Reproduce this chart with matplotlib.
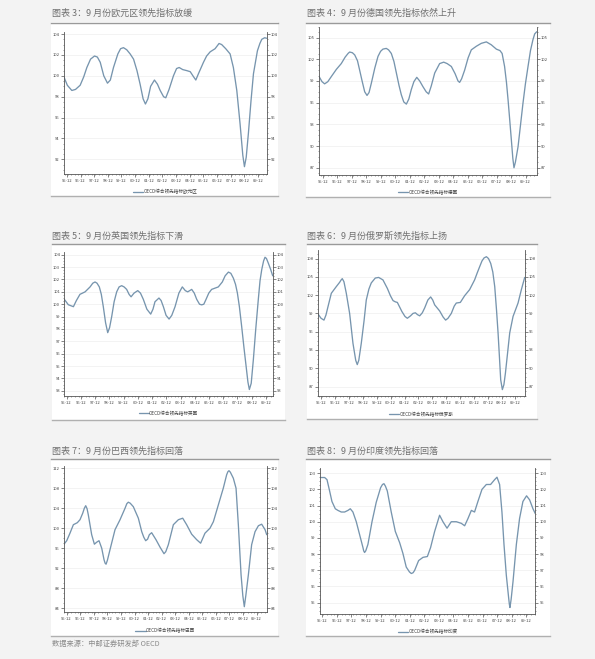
import matplotlib
matplotlib.use("Agg")
import matplotlib.pyplot as plt
from matplotlib.patches import Rectangle
from matplotlib.lines import Line2D
from matplotlib.ticker import MultipleLocator, AutoMinorLocator

plt.rcParams['font.family'] = ['Noto Sans CJK SC', 'DejaVu Sans']

W, H = 595, 659

# ---------------- data (decimal years, index values) ----------------
tick_years = list(range(1995, 2010))
tick_labels = ["95-12", "96-12", "97-12", "98-12", "99-12", "00-12", "01-12", "02-12",
               "03-12", "04-12", "05-12", "06-12", "07-12", "08-12", "09-12"]

ez_t = [1995.67, 1995.95, 1996.28, 1996.55, 1996.89, 1997.15, 1997.38, 1997.65, 1997.94, 1998.15,
        1998.36, 1998.62, 1998.89, 1999.10, 1999.33, 1999.65, 1999.85, 2000.06, 2000.30, 2000.55,
        2000.80, 2001.05, 2001.28, 2001.50, 2001.67, 2001.85, 2002.05, 2002.33, 2002.55, 2002.75,
        2003.00, 2003.16, 2003.40, 2003.72, 2003.95, 2004.14, 2004.40, 2004.70, 2004.95, 2005.20,
        2005.36, 2005.55, 2005.92, 2006.15, 2006.41, 2006.77, 2007.06, 2007.25, 2007.55, 2007.87,
        2008.11, 2008.36, 2008.60, 2008.80, 2008.92, 2009.05, 2009.21, 2009.40, 2009.58, 2009.87,
        2010.05, 2010.19, 2010.40, 2010.55]
ez_v = [100.0, 99.1, 98.6, 98.7, 99.1, 99.9, 100.8, 101.6, 101.9, 101.8,
        101.3, 100.0, 99.3, 99.6, 100.8, 102.1, 102.6, 102.7, 102.5, 102.1,
        101.6, 100.5, 99.2, 97.8, 97.3, 97.8, 99.0, 99.6, 99.2, 98.6,
        98.0, 97.9, 98.7, 100.0, 100.7, 100.8, 100.6, 100.5, 100.4, 99.9,
        99.6, 100.2, 101.3, 101.9, 102.3, 102.6, 103.1, 103.0, 102.6, 102.1,
        100.8, 98.6, 95.4, 92.4, 91.3, 92.2, 94.5, 97.6, 100.2, 102.4,
        103.1, 103.5, 103.65, 103.6]

de_t = [1995.62, 1995.85, 1996.03, 1996.25, 1996.49, 1996.84, 1997.18, 1997.45, 1997.65, 1997.76,
        1997.95, 1998.11, 1998.30, 1998.45, 1998.62, 1998.80, 1998.96, 1999.10, 1999.26, 1999.50,
        1999.72, 1999.90, 2000.06, 2000.29, 2000.45, 2000.64, 2000.82, 2000.99, 2001.17, 2001.33,
        2001.50, 2001.68, 2001.85, 2002.02, 2002.20, 2002.40, 2002.60, 2002.83, 2003.05, 2003.22,
        2003.40, 2003.64, 2003.98, 2004.26, 2004.50, 2004.79, 2005.05, 2005.25, 2005.36, 2005.50,
        2005.71, 2005.95, 2006.17, 2006.52, 2006.86, 2007.21, 2007.55, 2007.90, 2008.15, 2008.30,
        2008.47, 2008.60, 2008.71, 2008.83, 2008.94, 2009.04, 2009.12, 2009.22, 2009.40, 2009.57,
        2009.74, 2009.91, 2010.09, 2010.26, 2010.43, 2010.55, 2010.69]
de_v = [99.7, 98.9, 98.6, 98.9, 99.6, 100.6, 101.4, 102.3, 102.8, 103.0,
        102.9, 102.6, 101.8, 100.5, 99.0, 97.5, 97.0, 97.4, 98.7, 100.8,
        102.4, 103.1, 103.4, 103.5, 103.3, 102.8, 101.7, 100.1, 98.4, 97.1,
        96.1, 95.8, 96.5, 97.8, 98.9, 99.5, 99.0, 98.2, 97.5, 97.2,
        98.3, 100.1, 101.4, 101.6, 101.4, 101.0, 100.0, 99.0, 98.8, 99.3,
        100.5, 102.2, 103.3, 103.8, 104.2, 104.4, 104.0, 103.4, 103.2, 102.8,
        101.0, 98.8, 96.4, 93.5, 90.8, 88.3, 87.0, 87.8, 89.9, 92.9,
        95.9, 98.6, 101.0, 103.2, 104.7, 105.5, 105.8]

uk_t = [1995.75, 1996.03, 1996.39, 1996.60, 1996.85, 1997.21, 1997.56, 1997.75, 1997.91, 1998.05,
        1998.21, 1998.35, 1998.49, 1998.65, 1998.80, 1998.93, 1999.08, 1999.25, 1999.43, 1999.60,
        1999.78, 1999.95, 2000.13, 2000.30, 2000.44, 2000.65, 2000.91, 2001.10, 2001.30, 2001.55,
        2001.82, 2001.98, 2002.12, 2002.40, 2002.55, 2002.71, 2002.90, 2003.11, 2003.30, 2003.53,
        2003.80, 2004.04, 2004.25, 2004.42, 2004.70, 2004.88, 2005.05, 2005.25, 2005.40, 2005.55,
        2005.71, 2005.90, 2006.10, 2006.57, 2006.85, 2007.05, 2007.28, 2007.45, 2007.63, 2007.78,
        2007.91, 2008.05, 2008.21, 2008.37, 2008.52, 2008.65, 2008.75, 2008.88, 2009.03, 2009.20,
        2009.38, 2009.50, 2009.62, 2009.75, 2009.85, 2009.95, 2010.09, 2010.25, 2010.39]
uk_v = [100.4, 99.96, 99.8, 100.3, 100.8, 101.0, 101.4, 101.7, 101.8, 101.7,
        101.4, 100.8, 99.8, 98.5, 97.7, 98.1, 99.0, 100.2, 101.0, 101.4,
        101.5, 101.4, 101.2, 100.8, 100.6, 100.9, 101.1, 100.9, 100.4, 99.6,
        99.2, 99.6, 100.2, 100.5, 100.3, 99.8, 99.1, 98.8, 99.1, 99.8,
        100.9, 101.4, 101.1, 101.0, 101.2, 100.9, 100.4, 100.0, 99.95, 100.0,
        100.4, 100.9, 101.2, 101.4, 101.8, 102.3, 102.6, 102.5, 102.1, 101.6,
        100.9, 99.8, 98.2, 96.5, 95.0, 93.7, 93.1, 93.6, 95.5, 98.0,
        100.4, 101.9, 102.8, 103.5, 103.8, 103.7, 103.3, 102.8, 102.3]

ru_t = [1995.68, 1995.90, 1996.11, 1996.25, 1996.40, 1996.64, 1997.00, 1997.24, 1997.35, 1997.43,
        1997.55, 1997.72, 1997.96, 1998.20, 1998.40, 1998.51, 1998.62, 1998.80, 1999.00, 1999.16,
        1999.35, 1999.52, 1999.81, 2000.05, 2000.36, 2000.68, 2000.90, 2001.09, 2001.25, 2001.40,
        2001.73, 2001.95, 2002.12, 2002.35, 2002.53, 2002.70, 2002.85, 2003.01, 2003.20, 2003.37,
        2003.60, 2003.80, 2003.95, 2004.09, 2004.45, 2004.70, 2004.88, 2005.05, 2005.29, 2005.50,
        2005.65, 2005.94, 2006.25, 2006.61, 2006.97, 2007.15, 2007.34, 2007.50, 2007.65, 2007.82,
        2007.97, 2008.13, 2008.28, 2008.42, 2008.55, 2008.66, 2008.76, 2008.85, 2008.97, 2009.08,
        2009.19, 2009.35, 2009.50, 2009.74, 2010.10, 2010.34, 2010.58]
ru_v = [98.9, 98.2, 97.9, 98.7, 100.1, 102.3, 103.4, 104.1, 104.5, 104.7,
        104.2, 102.3, 99.0, 94.1, 91.3, 90.6, 91.3, 94.1, 97.8, 101.2,
        103.0, 104.0, 104.8, 104.9, 104.5, 103.1, 101.9, 101.1, 100.9, 100.8,
        99.3, 98.5, 98.2, 98.6, 99.0, 99.1, 98.8, 98.6, 99.1, 99.9,
        101.2, 101.7, 101.2, 100.4, 99.4, 98.4, 97.9, 98.2, 99.0, 100.2,
        100.7, 100.8, 101.9, 102.9, 104.5, 105.6, 106.7, 107.6, 108.1, 108.3,
        108.0, 107.2, 105.8, 103.4, 99.5, 95.8, 91.8, 88.1, 86.5, 87.3,
        89.2, 92.6, 95.8, 98.5, 100.7, 102.9, 104.9]

br_t = [1995.72, 1995.92, 1996.16, 1996.41, 1996.70, 1996.90, 1997.10, 1997.22, 1997.32, 1997.42,
        1997.51, 1997.76, 1997.96, 1998.13, 1998.30, 1998.50, 1998.67, 1998.75, 1998.82, 1998.92,
        1999.11, 1999.48, 1999.85, 2000.22, 2000.35, 2000.46, 2000.60, 2000.83, 2001.20, 2001.45,
        2001.60, 2001.74, 2001.88, 2002.01, 2002.18, 2002.50, 2002.80, 2003.09, 2003.22, 2003.41,
        2003.78, 2004.15, 2004.47, 2004.76, 2005.13, 2005.50, 2005.79, 2006.11, 2006.48, 2006.73,
        2007.10, 2007.46, 2007.71, 2007.80, 2007.88, 2007.98, 2008.20, 2008.40, 2008.57, 2008.77,
        2008.90, 2009.01, 2009.12, 2009.31, 2009.55, 2009.80, 2010.05, 2010.29, 2010.54, 2010.66]
br_v = [96.8, 97.5, 99.0, 100.7, 101.1, 101.7, 103.0, 104.0, 104.5, 103.9,
        102.7, 98.7, 96.8, 97.2, 97.5, 96.0, 93.7, 93.0, 92.8, 93.6,
        95.7, 99.7, 101.7, 104.0, 104.9, 105.2, 105.0, 104.3, 102.0, 99.3,
        98.2, 97.5, 97.8, 98.7, 99.1, 97.7, 96.2, 94.9, 95.3, 96.7,
        100.7, 101.7, 102.0, 100.7, 98.8, 97.7, 97.0, 99.0, 100.0, 101.3,
        104.7, 108.0, 110.7, 111.3, 111.5, 111.2, 110.0, 108.0, 100.7, 90.7,
        86.5, 84.3, 86.5, 90.7, 96.7, 99.3, 100.5, 100.8, 99.7, 98.7]

in_t = [1995.76, 1996.08, 1996.24, 1996.42, 1996.58, 1996.81, 1996.99, 1997.22, 1997.45, 1997.68,
        1997.84, 1998.02, 1998.25, 1998.48, 1998.71, 1998.76, 1998.82, 1998.90, 1999.05, 1999.33,
        1999.62, 1999.92, 2000.05, 2000.15, 2000.25, 2000.38, 2000.65, 2000.93, 2001.23, 2001.45,
        2001.68, 2001.90, 2002.03, 2002.15, 2002.26, 2002.53, 2002.83, 2003.13, 2003.35, 2003.63,
        2003.97, 2004.20, 2004.48, 2004.77, 2005.12, 2005.46, 2005.69, 2005.92, 2006.15, 2006.37,
        2006.60, 2006.88, 2007.18, 2007.47, 2007.75, 2007.91, 2008.09, 2008.25, 2008.39, 2008.55,
        2008.71, 2008.76, 2008.80, 2008.88, 2009.01, 2009.24, 2009.46, 2009.69, 2009.94, 2010.15,
        2010.38, 2010.54]
in_v = [102.73, 102.73, 102.6, 101.9, 101.25, 100.8, 100.7, 100.6, 100.6, 100.7,
        100.8, 100.6, 100.0, 99.2, 98.4, 98.2, 98.1, 98.2, 98.6, 100.0,
        101.2, 102.1, 102.3, 102.35, 102.2, 101.9, 100.6, 99.4, 98.7, 98.05,
        97.2, 96.9, 96.8, 96.85, 97.0, 97.6, 97.8, 97.85, 98.4, 99.4,
        100.4, 100.0, 99.6, 100.0, 100.0, 99.9, 99.75, 100.2, 100.7, 100.6,
        101.25, 102.0, 102.3, 102.3, 102.6, 102.75, 102.3, 100.6, 98.6, 96.7,
        95.3, 94.9, 94.7, 95.2, 96.3, 98.6, 100.2, 101.25, 101.6, 101.35,
        100.8, 100.5]

titles = ["图表 3：9 月份欧元区领先指标放缓", "图表 4：9 月份德国领先指标依然上升",
          "图表 5：9 月份英国领先指标下滑", "图表 6：9 月份俄罗斯领先指标上扬",
          "图表 7：9 月份巴西领先指标回落", "图表 8：9 月份印度领先指标回落"]
legend_labels = ["OECD综合领先指标欧元区", "OECD综合领先指标德国", "OECD综合领先指标英国",
                 "OECD综合领先指标俄罗斯", "OECD综合领先指标巴西", "OECD综合领先指标印度"]
series = [(ez_t, ez_v), (de_t, de_v), (uk_t, uk_v), (ru_t, ru_v), (br_t, br_v), (in_t, in_v)]
yticks = [list(range(92, 105, 2)), list(range(87, 106, 3)), list(range(93, 105, 1)),
          list(range(87, 109, 3)), list(range(84, 113, 4)), list(range(95, 104, 1))]
source_text = "数据来源：中邮证券研发部 OECD"

# ---------------- layout (pixels) ----------------
layout = [
    dict(title=(52, 13), box=(51, 22.5, 278, 195.5), ax=(63.5, 32, 266.7, 174), ylim=(90.6, 104.2), leg=191.7),
    dict(title=(307, 13), box=(306, 22.7, 550, 196.7), ax=(318.7, 26.7, 536.7, 175), ylim=(86.0, 106.5), leg=192.3),
    dict(title=(52, 236), box=(52, 244.3, 285, 420), ax=(64.3, 252.3, 272.7, 395.7), ylim=(92.6, 104.2), leg=413.3),
    dict(title=(307, 236), box=(307, 244.3, 537.3, 419.3), ax=(318, 250, 524.7, 395.7), ylim=(85.5, 109.4), leg=414.3),
    dict(title=(52, 451), box=(51, 459.3, 278, 635.7), ax=(64, 465.7, 266.7, 611.7), ylim=(83.3, 112.5), leg=630.7),
    dict(title=(307, 451), box=(306, 459.3, 550, 636), ax=(320, 468.3, 535.3, 614), ylim=(94.3, 103.3), leg=631.7),
]

line_color = "#7795ae"
axis_color = "#555555"

fig = plt.figure(figsize=(W / 100, H / 100), dpi=100)
fig.patch.set_facecolor("#f3f3f3")

def fx(x):
    return x / W

def fy(y):
    return 1 - y / H

for i, lay in enumerate(layout):
    bl, bt, br, bb = lay["box"]
    fig.patches.append(Rectangle((fx(bl), fy(bb)), fx(br) - fx(bl), fy(bt) - fy(bb),
                                 transform=fig.transFigure, facecolor="white", edgecolor="none", zorder=-2))
    fig.lines.append(Line2D([fx(bl), fx(br)], [fy(bt), fy(bt)], transform=fig.transFigure,
                            color="#9a9a9a", lw=1.0, zorder=-1))
    fig.lines.append(Line2D([fx(bl), fx(br)], [fy(bb), fy(bb)], transform=fig.transFigure,
                            color="#b0b0b0", lw=1.0, zorder=-1))
    tx, ty = lay["title"]
    fig.text(fx(tx), fy(ty), titles[i], ha="left", va="center", fontsize=6.5, color="#707070")

    al, at, ar, ab = lay["ax"]
    ax = fig.add_axes([fx(al), fy(ab), fx(ar) - fx(al), fy(at) - fy(ab)])
    ax.set_zorder(2)
    ax.set_facecolor("none")
    t, v = series[i]
    ax.plot(t, v, color=line_color, lw=0.95, label=legend_labels[i],
            solid_joinstyle="round", solid_capstyle="round")
    ax.set_xlim(t[0], t[-1])
    ax.set_ylim(*lay["ylim"])

    ax.set_xticks([y + 11.0 / 12 for y in tick_years])
    ax.set_xticklabels(tick_labels)
    ax.xaxis.set_minor_locator(MultipleLocator(0.25))
    ax.set_yticks(yticks[i])
    ax.set_yticklabels([str(k) for k in yticks[i]])
    ax.yaxis.set_minor_locator(AutoMinorLocator(4))

    ax.grid(axis="y", which="major", color="#eeeeee", lw=0.5)
    ax.set_axisbelow(True)
    ax.spines["top"].set_visible(False)
    for s in ["left", "right", "bottom"]:
        ax.spines[s].set_color(axis_color)
        ax.spines[s].set_linewidth(0.6)

    ax.tick_params(axis="y", which="both", left=True, right=True, labelleft=True, labelright=True,
                   direction="out", colors=axis_color, labelsize=3.0, pad=1)
    ax.tick_params(axis="y", which="major", length=2, width=0.5)
    ax.tick_params(axis="y", which="minor", length=1, width=0.4)
    ax.tick_params(axis="x", which="both", direction="out", colors=axis_color, labelsize=3.0, pad=1.5)
    ax.tick_params(axis="x", which="major", length=2, width=0.5)
    ax.tick_params(axis="x", which="minor", length=1, width=0.4)
    for lab in ax.get_xticklabels() + ax.get_yticklabels():
        lab.set_color("#444444")

    ly = (ab - lay["leg"]) / (ab - at)
    leg = ax.legend(loc="center", bbox_to_anchor=(0.5, ly), frameon=False, fontsize=3.3,
                    handlelength=2.2, handletextpad=0.1, borderpad=0)
    for txt in leg.get_texts():
        txt.set_color("#444444")

fig.text(fx(52), fy(644), source_text, ha="left", va="center", fontsize=5.2, color="#8a8a8a",
         style="italic")

fig.savefig("out.png", dpi=100, facecolor=fig.get_facecolor())
